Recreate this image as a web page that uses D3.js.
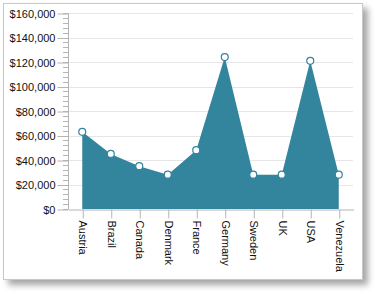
<!DOCTYPE html>
<html>
<head>
<meta charset="utf-8">
<script src="https://cdn.jsdelivr.net/npm/d3@7"></script>
<style>
  body { margin: 0; background: #fff; }
  text { font-family: "Liberation Sans", Arial, sans-serif; }
</style>
</head>
<body>
<script>
// chart data
var countries = ["Austria", "Brazil", "Canada", "Denmark", "France", "Germany", "Sweden", "UK", "USA", "Venezuela"];
var sales = [63000, 45000, 35000, 28000, 48000, 124000, 28000, 28000, 121000, 28000];
var yTicks = [0, 20000, 40000, 60000, 80000, 100000, 120000, 140000, 160000];

var width = 379,
    height = 294;

var plot = { left: 68, right: 353, top: 13, bottom: 209 };
var teal = "#33849d";

var svg = d3.select("body").append("svg")
    .attr("width", width)
    .attr("height", height);

// drop shadow for the panel
var defs = svg.append("defs");
var filt = defs.append("filter")
    .attr("id", "shadow")
    .attr("x", "-5%").attr("y", "-5%")
    .attr("width", "115%").attr("height", "115%");
filt.append("feDropShadow")
    .attr("dx", 5).attr("dy", 5)
    .attr("stdDeviation", 3)
    .attr("flood-color", "#000")
    .attr("flood-opacity", 0.35);

svg.append("rect")
    .attr("x", 3.5).attr("y", 3.5)
    .attr("width", 359).attr("height", 276)
    .attr("fill", "#fff")
    .attr("stroke", "#c8c8c8")
    .attr("filter", "url(#shadow)");

var x = d3.scalePoint()
    .domain(countries)
    .range([plot.left, plot.right])
    .padding(0.5);

var y = d3.scaleLinear()
    .domain([0, 160000])
    .range([plot.bottom, plot.top]);

// gridlines
svg.append("g")
    .selectAll("line")
    .data(yTicks.slice(1))
    .enter()
    .append("line")
    .attr("x1", plot.left)
    .attr("x2", plot.right)
    .attr("y1", d => Math.round(y(d)) + 0.5)
    .attr("y2", d => Math.round(y(d)) + 0.5)
    .attr("stroke", "#e6e6e6");

// area
var area = d3.area()
    .x((d, i) => x(countries[i]))
    .y0(y(0))
    .y1(d => y(d));

svg.append("path")
    .datum(sales)
    .attr("d", area)
    .attr("fill", teal);

// minor ticks on y axis
var minor = d3.range(0, 160001, 4000);
svg.append("g")
    .selectAll("line")
    .data(minor)
    .enter()
    .append("line")
    .attr("x1", plot.left - 5)
    .attr("x2", plot.left)
    .attr("y1", d => Math.round(y(d)) + 0.5)
    .attr("y2", d => Math.round(y(d)) + 0.5)
    .attr("stroke", "#b4b4b4");

// y axis
var yAxis = svg.append("g")
    .attr("transform", "translate(" + (plot.left + 0.5) + ",0.5)")
    .call(d3.axisLeft(y)
        .tickValues(yTicks)
        .tickSize(11)
        .tickPadding(2)
        .tickFormat(d => "$" + d3.format(",")(d)));
yAxis.select(".domain").attr("stroke", "#b4b4b4").attr("d", "M0," + plot.top + "V" + plot.bottom);
yAxis.selectAll(".tick line").attr("stroke", "#b4b4b4");
yAxis.selectAll("text").attr("font-size", 11).attr("fill", "#111")
    .attr("font-family", "'Liberation Sans', Arial, sans-serif");

// x axis
var xAxis = svg.append("g")
    .attr("transform", "translate(0.5," + (plot.bottom + 0.5) + ")")
    .call(d3.axisBottom(x).tickSize(9).tickSizeOuter(0));
xAxis.select(".domain").attr("stroke", "#b4b4b4");
xAxis.selectAll(".tick line").attr("stroke", "#b4b4b4");
xAxis.selectAll("text")
    .attr("font-size", 11)
    .attr("fill", "#111")
    .attr("font-family", "'Liberation Sans', Arial, sans-serif")
    .attr("transform", "rotate(90)")
    .attr("x", 11)
    .attr("y", 0)
    .attr("dy", "0.35em")
    .attr("text-anchor", "start");

// markers
svg.append("g")
    .selectAll("circle")
    .data(sales)
    .enter()
    .append("circle")
    .attr("cx", (d, i) => x(countries[i]))
    .attr("cy", d => y(d))
    .attr("r", 3.5)
    .attr("fill", "#fff")
    .attr("stroke", teal)
    .attr("stroke-width", 1.2);
</script>
</body>
</html>
